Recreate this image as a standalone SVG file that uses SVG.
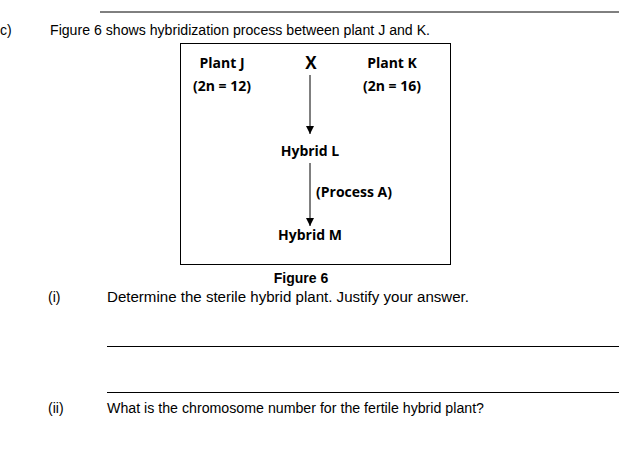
<svg xmlns="http://www.w3.org/2000/svg" width="619" height="453" viewBox="0 0 619 453">
<style>
.t{font-family:"Liberation Sans",Arial,sans-serif;font-size:14px;fill:#000}
.b{font-family:"Open Sans","Liberation Sans",sans-serif;font-size:14px;font-weight:bold;fill:#000}
.l{stroke:#000;stroke-width:1;fill:none}
</style>
<defs>
<marker id="a" markerWidth="8" markerHeight="9" refX="8" refY="4" orient="auto" markerUnits="userSpaceOnUse"><path d="M0,0 L8,4 L0,8 Z"/></marker></defs>
<line class="l" x1="100" y1="12" x2="619" y2="12"/>
<text class="t" x="0" y="35">c)</text>
<text class="t" x="50" y="35" textLength="380" lengthAdjust="spacingAndGlyphs">Figure 6 shows hybridization process between plant J and K.</text>
<rect class="l" x="180.5" y="43.5" width="270" height="221"/>
<g id="plantJ"><text class="b" x="222" y="68" text-anchor="middle">Plant J</text><text class="b" x="222" y="91" text-anchor="middle">(2n = 12)</text></g>
<g id="cross"><text class="b" x="311" y="69" text-anchor="middle" style="font-size:17px">X</text></g>
<g id="plantK"><text class="b" x="392" y="68" text-anchor="middle">Plant K</text><text class="b" x="392" y="91" text-anchor="middle">(2n = 16)</text></g>
<g id="hybridL"><text class="b" x="310" y="156" text-anchor="middle">Hybrid L</text></g>
<g id="hybridM"><text class="b" x="310" y="240" text-anchor="middle">Hybrid M</text></g>
<g id="connectors">
<line class="l" x1="310" y1="75" x2="310" y2="134" marker-end="url(#a)"/>
<line class="l" x1="310" y1="163" x2="310" y2="226" marker-end="url(#a)"/>
<text class="b" x="316" y="197">(Process A)</text>
</g>
<text class="t" x="301" y="283" text-anchor="middle" font-weight="bold">Figure 6</text>
<text class="t" x="48" y="302">(i)</text>
<text class="t" x="107" y="302" textLength="362" lengthAdjust="spacingAndGlyphs">Determine the sterile hybrid plant. Justify your answer.</text>
<line class="l" x1="107" y1="346.5" x2="619" y2="346.5"/>
<line class="l" x1="107" y1="392.5" x2="619" y2="392.5"/>
<text class="t" x="48" y="413">(ii)</text>
<text class="t" x="107" y="413" textLength="377" lengthAdjust="spacingAndGlyphs">What is the chromosome number for the fertile hybrid plant?</text>
</svg>
